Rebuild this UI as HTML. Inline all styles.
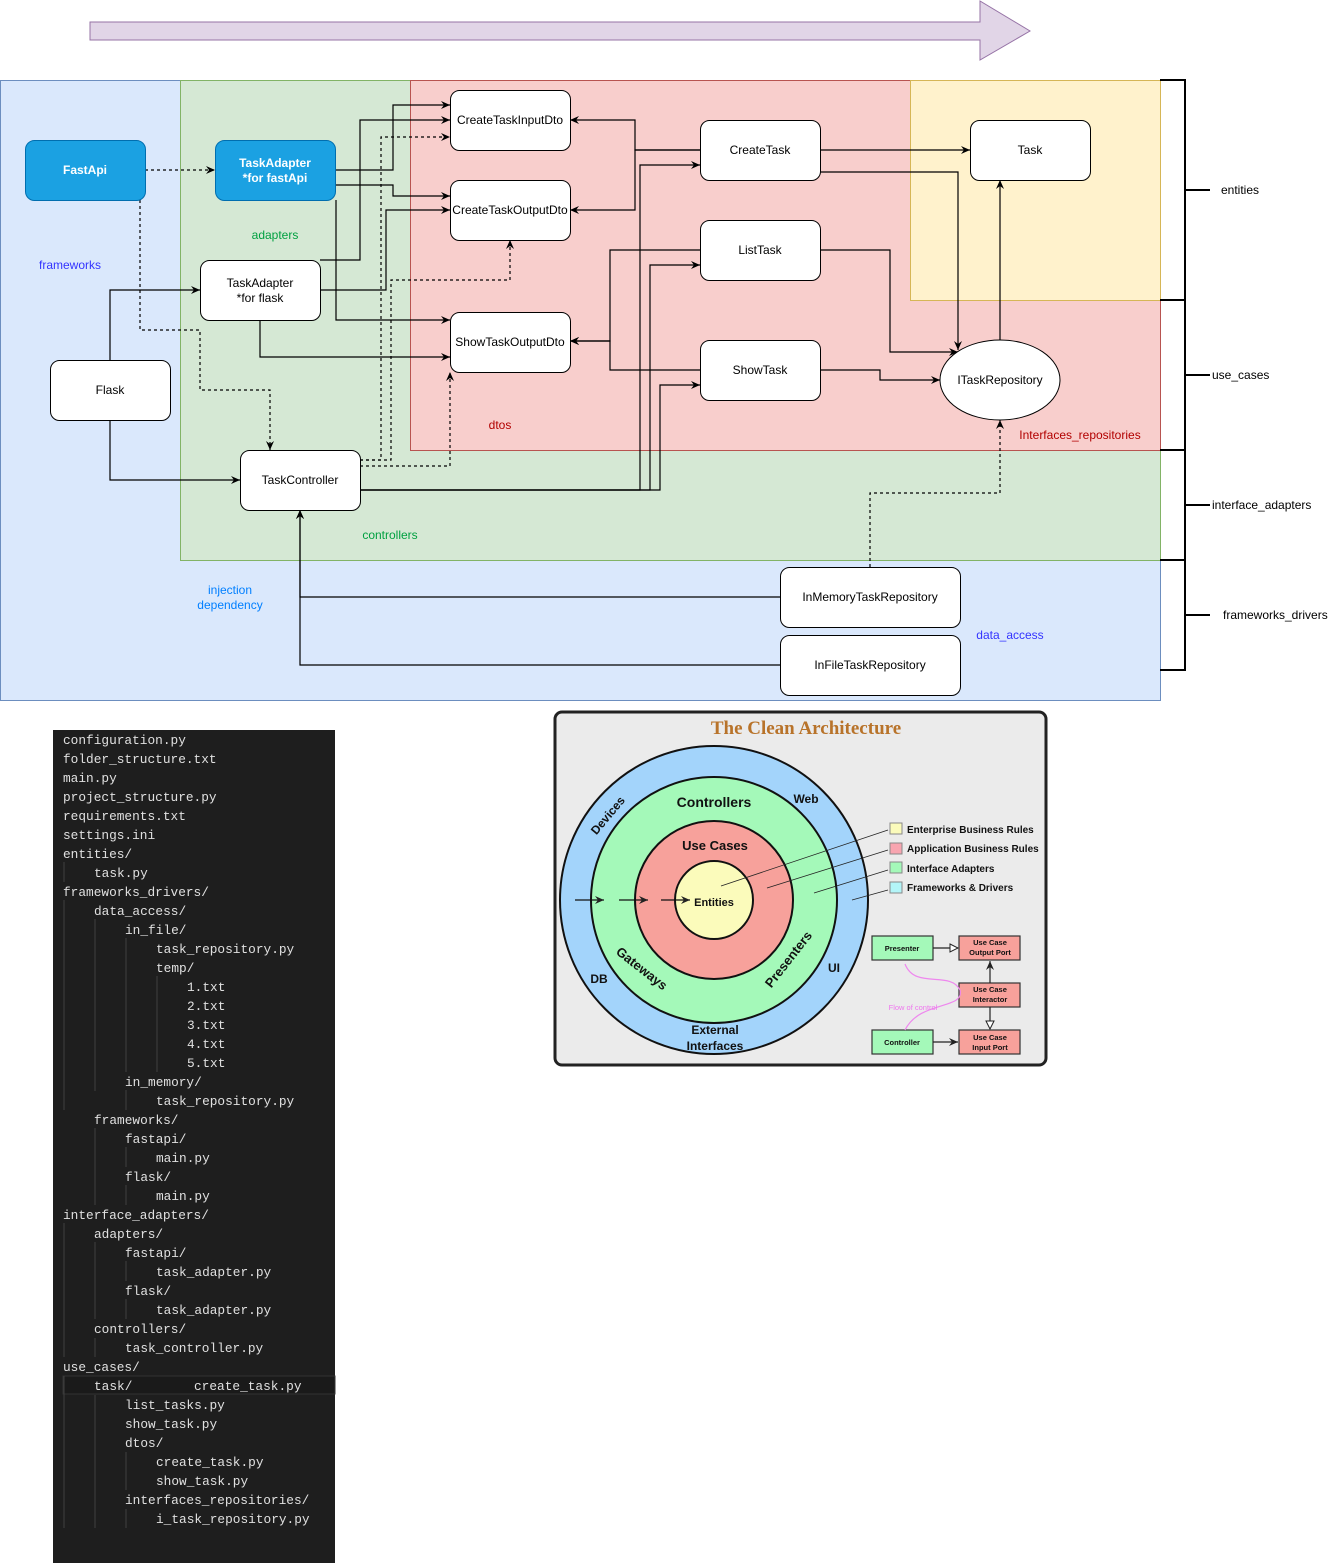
<!DOCTYPE html>
<html><head><meta charset="utf-8"><style>
html,body{margin:0;padding:0;background:#fff;}
svg{display:block;font-family:"Liberation Sans",sans-serif;}
</style></head><body>
<svg width="1331" height="1563" viewBox="0 0 1331 1563" xmlns="http://www.w3.org/2000/svg">
<defs>
<marker id="a" markerWidth="10" markerHeight="10" refX="9" refY="5" orient="auto" markerUnits="userSpaceOnUse"><path d="M0,1 L9,5 L0,9 L3,5 Z" fill="#000"/></marker>
<marker id="b" markerWidth="10" markerHeight="10" refX="9" refY="5" orient="auto" markerUnits="userSpaceOnUse"><path d="M0,1 L9,5 L0,9 L3,5 Z" fill="#222"/></marker>
<marker id="t" markerWidth="10" markerHeight="10" refX="9" refY="5" orient="auto" markerUnits="userSpaceOnUse"><path d="M1,1 L9,5 L1,9 Z" fill="#fff" stroke="#222"/></marker>
</defs>
<path d="M90,22 L980,22 L980,1 L1030,31 L980,60 L980,40 L90,40 Z" fill="#e1d5e7" stroke="#9673a6"/>
<rect x="0.5" y="80.5" width="1160" height="620" fill="#dae8fc" stroke="#6c8ebf"/>
<rect x="180.5" y="80.5" width="980" height="480" fill="#d5e8d4" stroke="#82b366"/>
<rect x="410.5" y="80.5" width="750" height="370" fill="#f8cecc" stroke="#b85450"/>
<rect x="910.5" y="80.5" width="250" height="220" fill="#fff2cc" stroke="#d6b656"/>
<g stroke="#000" stroke-width="2" fill="none">
<path d="M1160,80 H1185 V670 H1160 M1160,300 H1185 M1160,450 H1185 M1160,560 H1185 M1185,190 H1210 M1185,375 H1210 M1185,505 H1210 M1185,615 H1210"/>
</g>
<g font-size="12" fill="#000">
<text x="1221" y="194">entities</text>
<text x="1212" y="379">use_cases</text>
<text x="1212" y="509">interface_adapters</text>
<text x="1223" y="619">frameworks_drivers</text>
</g>
<g font-size="12" text-anchor="middle">
<text x="70" y="269" fill="#3333ff">frameworks</text>
<text x="275" y="239" fill="#00a040">adapters</text>
<text x="500" y="429" fill="#b20000">dtos</text>
<text x="1080" y="439" fill="#b20000">Interfaces_repositories</text>
<text x="390" y="539" fill="#00a040">controllers</text>
<text x="230" y="594" fill="#007fff">injection</text>
<text x="230" y="609" fill="#007fff">dependency</text>
<text x="1010" y="639" fill="#3333ff">data_access</text>
</g>
<g stroke="#000" stroke-width="1.2" fill="none" marker-end="url(#a)">
<path d="M336,170 H393 V105 H450"/>
<path d="M336,185 H393 V196 H450"/>
<path d="M336,200 V320 H450"/>
<path d="M320,260 H360 V120 H450"/>
<path d="M320,290 H386 V210 H450"/>
<path d="M260,320 V357 H450"/>
<path d="M110,360 V290 H200"/>
<path d="M110,420 V480 H240"/>
<path d="M360,490 H640 V165 H700"/>
<path d="M360,490 H650 V265 H700"/>
<path d="M360,490 H660 V385 H700"/>
<path d="M700,150 H635 V120 H570"/>
<path d="M700,150 H635 V210 H570"/>
<path d="M700,250 H610 V341 H570"/>
<path d="M700,370 H610 V341 H570"/>
<path d="M820,150 H970"/>
<path d="M820,172 H958 V350"/>
<path d="M820,250 H890 V352 H958"/>
<path d="M820,370 H880 V380 H940"/>
<path d="M1000,340 V180"/>
<path d="M780,597 H300 V510"/>
<path d="M780,665 H300 V510"/>
</g>
<g stroke="#000" stroke-width="1.2" fill="none" stroke-dasharray="3,3" marker-end="url(#a)">
<path d="M145,170 H215"/>
<path d="M140,200 V330 H200 V390 H270 V450"/>
<path d="M360,460 H381 V137 H450"/>
<path d="M360,460 H391 V280 H510 V240"/>
<path d="M360,466 H450 V372"/>
<path d="M870,567 V493 H1000 V420"/>
</g>
<g stroke="#000" stroke-width="1" fill="#fff">
<rect x="25.5" y="140.5" width="120" height="60" rx="9" fill="#1ba1e2" stroke="#006eaf"/>
<rect x="215.5" y="140.5" width="120" height="60" rx="9" fill="#1ba1e2" stroke="#006eaf"/>
<rect x="200.5" y="260.5" width="120" height="60" rx="9"/>
<rect x="50.5" y="360.5" width="120" height="60" rx="9"/>
<rect x="240.5" y="450.5" width="120" height="60" rx="9"/>
<rect x="450.5" y="90.5" width="120" height="60" rx="9"/>
<rect x="450.5" y="180.5" width="120" height="60" rx="9"/>
<rect x="450.5" y="312.5" width="120" height="60" rx="9"/>
<rect x="700.5" y="120.5" width="120" height="60" rx="9"/>
<rect x="700.5" y="220.5" width="120" height="60" rx="9"/>
<rect x="700.5" y="340.5" width="120" height="60" rx="9"/>
<rect x="970.5" y="120.5" width="120" height="60" rx="9"/>
<ellipse cx="1000" cy="380" rx="60" ry="40"/>
<rect x="780.5" y="567.5" width="180" height="60" rx="9"/>
<rect x="780.5" y="635.5" width="180" height="60" rx="9"/>
</g>
<g font-size="12" text-anchor="middle" fill="#000">
<text x="85" y="174" fill="#fff" font-weight="bold">FastApi</text>
<text x="275" y="167" fill="#fff" font-weight="bold">TaskAdapter</text>
<text x="275" y="182" fill="#fff" font-weight="bold">*for fastApi</text>
<text x="260" y="287">TaskAdapter</text>
<text x="260" y="302">*for flask</text>
<text x="110" y="394">Flask</text>
<text x="300" y="484">TaskController</text>
<text x="510" y="124">CreateTaskInputDto</text>
<text x="510" y="214">CreateTaskOutputDto</text>
<text x="510" y="346">ShowTaskOutputDto</text>
<text x="760" y="154">CreateTask</text>
<text x="760" y="254">ListTask</text>
<text x="760" y="374">ShowTask</text>
<text x="1030" y="154">Task</text>
<text x="1000" y="384">ITaskRepository</text>
<text x="870" y="601">InMemoryTaskRepository</text>
<text x="870" y="669">InFileTaskRepository</text>
</g>

<rect x="53" y="730" width="282" height="833" fill="#1e1e1e"/>
<rect x="63" y="1376" width="272" height="18" fill="#1a1a1a" stroke="#333" stroke-width="1"/>
<g stroke="#404040" stroke-width="1">
<path d="M64,862 V882 M64,900 V1110 M64,1223 V1357 M64,1376 V1528"/>
<path d="M95,919 V1091 M95,1128 V1205 M95,1242 V1319 M95,1338 V1357 M95,1395 V1528"/>
<path d="M126,938 V1072 M126,1090 V1110 M126,1147 V1167 M126,1185 V1205 M126,1261 V1281 M126,1299 V1319 M126,1452 V1490 M126,1509 V1528"/>
<path d="M157,976 V1072"/>
</g>
<g font-family="'Liberation Mono',monospace" font-size="12.8" fill="#e0e0e0">
<text x="63" y="744">configuration.py</text>
<text x="63" y="763">folder_structure.txt</text>
<text x="63" y="782">main.py</text>
<text x="63" y="801">project_structure.py</text>
<text x="63" y="820">requirements.txt</text>
<text x="63" y="839">settings.ini</text>
<text x="63" y="858">entities/</text>
<text x="94" y="877">task.py</text>
<text x="63" y="896">frameworks_drivers/</text>
<text x="94" y="915">data_access/</text>
<text x="125" y="934">in_file/</text>
<text x="156" y="953">task_repository.py</text>
<text x="156" y="972">temp/</text>
<text x="187" y="991">1.txt</text>
<text x="187" y="1010">2.txt</text>
<text x="187" y="1029">3.txt</text>
<text x="187" y="1048">4.txt</text>
<text x="187" y="1067">5.txt</text>
<text x="125" y="1086">in_memory/</text>
<text x="156" y="1105">task_repository.py</text>
<text x="94" y="1124">frameworks/</text>
<text x="125" y="1143">fastapi/</text>
<text x="156" y="1162">main.py</text>
<text x="125" y="1181">flask/</text>
<text x="156" y="1200">main.py</text>
<text x="63" y="1219">interface_adapters/</text>
<text x="94" y="1238">adapters/</text>
<text x="125" y="1257">fastapi/</text>
<text x="156" y="1276">task_adapter.py</text>
<text x="125" y="1295">flask/</text>
<text x="156" y="1314">task_adapter.py</text>
<text x="94" y="1333">controllers/</text>
<text x="125" y="1352">task_controller.py</text>
<text x="63" y="1371">use_cases/</text>
<text x="94" y="1390">task/</text>
<text x="194" y="1390">create_task.py</text>
<text x="125" y="1409">list_tasks.py</text>
<text x="125" y="1428">show_task.py</text>
<text x="125" y="1447">dtos/</text>
<text x="156" y="1466">create_task.py</text>
<text x="156" y="1485">show_task.py</text>
<text x="125" y="1504">interfaces_repositories/</text>
<text x="156" y="1523">i_task_repository.py</text>
</g>

<rect x="555" y="712" width="491" height="353" rx="7" fill="#ebebeb" stroke="#222" stroke-width="3"/>
<text x="806" y="734" text-anchor="middle" font-family="'Liberation Serif',serif" font-weight="bold" font-size="19" fill="#b8732a">The Clean Architecture</text>
<circle cx="714" cy="900" r="154" fill="#a3d4fb" stroke="#111" stroke-width="2"/>
<circle cx="714" cy="900" r="123" fill="#a4f9b9" stroke="#111" stroke-width="2"/>
<circle cx="714" cy="900" r="79" fill="#f7a19b" stroke="#111" stroke-width="2"/>
<circle cx="714" cy="900" r="39" fill="#fbfbbb" stroke="#111" stroke-width="2"/>
<g stroke="#222" stroke-width="0.8">
<path d="M721,886 L888,830 M767,888 L888,850 M814,893 L888,870 M852,900 L888,890"/>
</g>
<g stroke="#111" stroke-width="1.2" marker-end="url(#b)">
<path d="M575,900 H604"/><path d="M619,900 H648"/><path d="M661,900 H690"/>
</g>
<g font-weight="bold" fill="#111" text-anchor="middle">
<text x="714" y="906" font-size="11">Entities</text>
<text x="715" y="850" font-size="13">Use Cases</text>
<text x="714" y="807" font-size="14">Controllers</text>
<text x="806" y="803" font-size="12">Web</text>
<text x="599" y="983" font-size="12">DB</text>
<text x="834" y="972" font-size="12">UI</text>
<text x="715" y="1034" font-size="12">External</text>
<text x="715" y="1050" font-size="12">Interfaces</text>
<text x="611" y="818" font-size="12" transform="rotate(-50 611 818)">Devices</text>
<text x="639" y="972" font-size="13" transform="rotate(38 639 972)">Gateways</text>
<text x="792" y="962" font-size="13" transform="rotate(-52 792 962)">Presenters</text>
</g>
<g font-size="10" font-weight="bold" fill="#111">
<rect x="890" y="823" width="12" height="11" fill="#fbfbbb" stroke="#888"/><text x="907" y="833">Enterprise Business Rules</text>
<rect x="890" y="843" width="12" height="11" fill="#f8a5b0" stroke="#888"/><text x="907" y="852">Application Business Rules</text>
<rect x="890" y="862" width="12" height="11" fill="#a4f9b9" stroke="#888"/><text x="907" y="872">Interface Adapters</text>
<rect x="890" y="882" width="12" height="11" fill="#b3f5f8" stroke="#888"/><text x="907" y="891">Frameworks &amp; Drivers</text>
</g>
<g stroke="#333" stroke-width="1.2">
<rect x="872" y="936" width="61" height="24" fill="#a4f9b9"/>
<rect x="959" y="936" width="61" height="24" fill="#f7a19b"/>
<rect x="959" y="983" width="61" height="24" fill="#f7a19b"/>
<rect x="872" y="1030" width="61" height="24" fill="#a4f9b9"/>
<rect x="959" y="1030" width="61" height="24" fill="#f7a19b"/>
</g>
<g stroke="#222" stroke-width="1.2" fill="none">
<path d="M933,948 H958" marker-end="url(#t)"/>
<path d="M990,983 V961" marker-end="url(#b)"/>
<path d="M990,1007 V1029" marker-end="url(#t)"/>
<path d="M933,1042 H958" marker-end="url(#b)"/>
</g>
<path d="M905,964 C915,990 950,970 960,990 C965,1010 920,1000 905,1030" stroke="#ee88ee" stroke-width="1.2" fill="none"/>
<text x="913" y="1010" font-size="7.5" fill="#ee77ee" text-anchor="middle">Flow of control</text>
<g font-size="7.5" font-weight="bold" fill="#111" text-anchor="middle">
<text x="902" y="951">Presenter</text>
<text x="990" y="945">Use Case</text><text x="990" y="955">Output Port</text>
<text x="990" y="992">Use Case</text><text x="990" y="1002">Interactor</text>
<text x="902" y="1045">Controller</text>
<text x="990" y="1040">Use Case</text><text x="990" y="1050">Input Port</text>
</g>
</svg>
</body></html>
